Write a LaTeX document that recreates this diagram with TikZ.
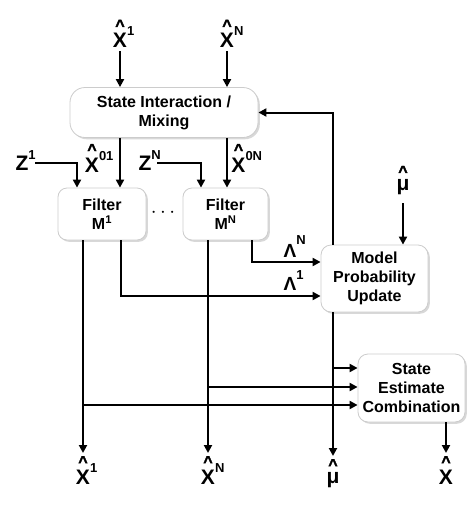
\documentclass[tikz,border=0pt]{standalone}
\usepackage{fontspec}
\setmainfont{Liberation Sans}
\newfontfamily\hatfont{Liberation Sans}[FakeBold=2]
\usetikzlibrary{arrows.meta,shadows}
\newcommand\hatted[2][16]{\leavevmode\vbox{\offinterlineskip\halign{\hfil##\hfil\cr{\fontsize{#1}{#1}\hatfont\bfseries\char"005E}\cr\noalign{\kern2.5pt}#2\cr}}}
\newcommand\hX[2]{\hatted{\fontsize{21}{21}\selectfont\bfseries X}\rlap{\raisebox{12pt}{\fontsize{13}{13}\selectfont\bfseries #2}}}
\newcommand\supr[3]{#1\rlap{\raisebox{#2}{\fontsize{13}{13}\selectfont\bfseries #3}}}
\begin{document}
\begin{tikzpicture}[x=1pt,y=-1pt,font=\bfseries,
  box/.style={draw=gray!40, line width=0.8pt, fill=white, align=center,
    drop shadow={shadow xshift=1.8pt,shadow yshift=-1.8pt,opacity=0.3},
    font=\fontsize{16}{19}\selectfont\bfseries, inner sep=0pt},
  arr/.style={line width=2pt, -{Triangle[length=8pt,width=8pt]}},
  lab/.style={inner sep=0pt}]
\fill[white] (0,0) rectangle (474,507);
\useasboundingbox (0,0) rectangle (474,507);

% boxes
\node[box, minimum width=188pt, minimum height=50pt, rounded corners=15pt] (mix) at (164,112.5) {State Interaction /\\Mixing};
\node[box, minimum width=88pt, minimum height=52pt, rounded corners=9pt] (f1) at (102,214) {Filter\\M\textsuperscript{1}};
\node[box, minimum width=85pt, minimum height=52pt, rounded corners=9pt] (fN) at (225.5,214) {Filter\\M\textsuperscript{N}};
\node[box, minimum width=107pt, minimum height=67pt, rounded corners=10pt] (mpu) at (374.5,278.5) {Model\\Probability\\Update};
\node[box, minimum width=107pt, minimum height=68pt, rounded corners=10pt] (sec) at (411.5,388) {State\\Estimate\\Combination};
\node[lab, font=\fontsize{20}{20}\selectfont] (dots) at (163,213) {$\cdots$};

% labels
\node[lab, anchor=south] (x1in) at (120,48) {\hX{X}{1}};
\node[lab, anchor=south] (xNin) at (227,48) {\hX{X}{N}};
\node[lab, anchor=base, font=\fontsize{21}{21}\selectfont\bfseries] (z1) at (22,170) {\supr{Z}{11pt}{1}};
\node[lab, anchor=base, font=\fontsize{21}{21}\selectfont\bfseries] (zN) at (145,170) {\supr{Z}{11pt}{N}};
\coordinate (z1e) at (35,163);
\coordinate (zNe) at (157,163);
\node[lab, anchor=base] (x01) at (92,172) {\hX{X}{01}};
\node[lab, anchor=base] (x0N) at (238.5,172) {\hX{X}{0N}};
\node[lab, anchor=south] (muin) at (403,195) {\hatted{\fontsize{21}{21}\selectfont\bfseries μ}};
\node[lab, anchor=base, font=\fontsize{19}{19}\selectfont\bfseries] (lamN) at (290,257) {\supr{Λ}{13pt}{N}};
\node[lab, anchor=base, font=\fontsize{19}{19}\selectfont\bfseries] (lam1) at (290,290) {\supr{Λ}{11pt}{1}};
\node[lab, anchor=north] (x1out) at (83,456) {\hX{X}{1}};
\node[lab, anchor=north] (xNout) at (208,456) {\hX{X}{N}};
\node[lab, anchor=north] (muout) at (333,459) {\hatted{\fontsize{21}{21}\selectfont\bfseries μ}};
\node[lab, anchor=north] (xout) at (446,456) {\hatted{\fontsize{21}{21}\selectfont\bfseries X}};

% connectors
\draw[arr] ([yshift=-3pt]x1in.south) -- (x1in.south |- mix.north);
\draw[arr] ([yshift=-3pt]xNin.south) -- (xNin.south |- mix.north);
\draw[arr] (mix.south -| x1in) -- (f1.north -| x1in);
\draw[arr] (mix.south -| xNin) -- (fN.north -| xNin);
\draw[arr] (z1e) -| ([xshift=-25pt]f1.north);
\draw[arr] (zNe) -| ([xshift=-24.5pt]fN.north);
\draw[arr] ([yshift=-8pt]muin.south) -- (muin.south |- mpu.north);
\draw[arr] (mpu.north -| muout) |- (mix.east);
\draw[arr] ([xshift=26.5pt]fN.south) |- ([yshift=16.5pt]mpu.west);
\draw[arr] ([xshift=19pt]f1.south) |- ([yshift=-17.5pt]mpu.west);
\draw[arr] (f1.south -| x1out) -- ([yshift=3pt]x1out.north);
\draw[arr] (fN.south -| xNout) -- ([yshift=3pt]xNout.north);
\draw[arr] (mpu.south -| muout) -- ([yshift=3pt]muout.north);
\draw[arr] ([yshift=20pt]sec.west -| muout) -- ([yshift=20pt]sec.west);
\draw[arr] ([yshift=1pt]sec.west -| xNout) -- ([yshift=1pt]sec.west);
\draw[arr] ([yshift=-17pt]sec.west -| x1out) -- ([yshift=-17pt]sec.west);
\draw[arr] (sec.south -| xout) -- ([yshift=3pt]xout.north);
\end{tikzpicture}
\end{document}
